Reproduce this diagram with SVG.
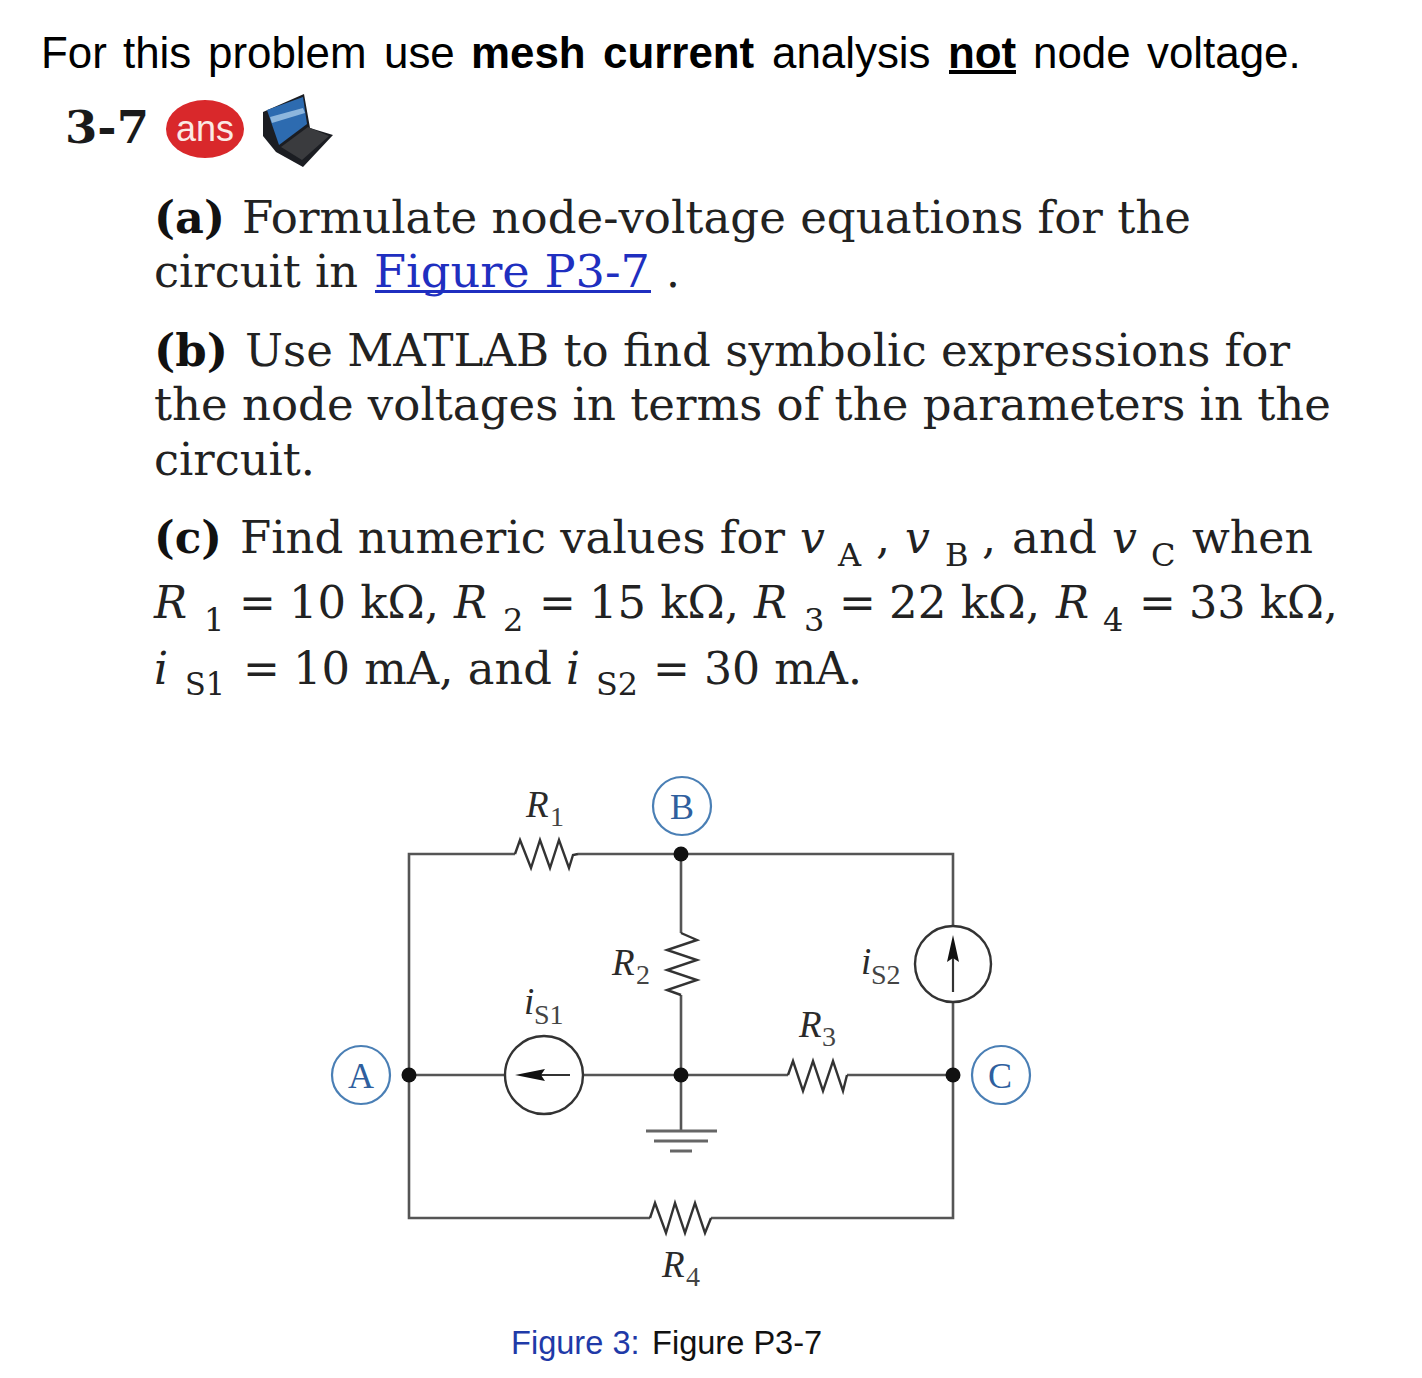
<svg xmlns="http://www.w3.org/2000/svg" width="1422" height="1378" viewBox="0 0 1422 1378">
<style>
text{white-space:pre}
.h{font-family:"Liberation Sans",Arial,sans-serif;font-size:43.9px;fill:#000}
.hb{font-weight:700}
.b{font-family:"DejaVu Serif",serif;font-size:44px;fill:#222}
.bb{font-weight:700;fill:#111}
.i{font-style:italic}
.s{font-size:32px}
.lk{fill:#1f2fc0}
.w{fill:none;stroke:#555;stroke-width:2.6;stroke-linejoin:miter}
.r{fill:none;stroke:#333;stroke-width:2.4;stroke-linejoin:miter}
.c{fill:#fff;stroke:#333;stroke-width:2.4}
.d{fill:#111}
.n{fill:#fff;stroke:#4a7fb5;stroke-width:2.2}
.nt{font-family:"Liberation Serif",serif;font-size:36px;fill:#2f5f9e;text-anchor:middle}
.l{font-family:"Liberation Serif",serif;font-size:37px;font-style:italic;fill:#2a2a2a}
.ls{font-family:"Liberation Serif",serif;font-size:28px;fill:#444}
.cap{font-family:"Liberation Sans",Arial,sans-serif;font-size:32.6px}
</style>
<rect width="1422" height="1378" fill="#fff"/>
<g id="heading" class="h">
<text x="41" y="68">For</text><text x="123" y="68">this</text><text x="208" y="68">problem</text><text x="384" y="68">use</text>
<text x="471" y="68" class="hb">mesh</text><text x="603" y="68" class="hb">current</text>
<text x="772" y="68">analysis</text><text x="948" y="68" class="hb">not</text><text x="1033" y="68">node</text><text x="1147" y="68">voltage.</text>
<rect x="949" y="70" width="67" height="4" fill="#000"/>
</g>
<g id="problem-number">
<text x="65" y="143" font-family="DejaVu Serif,serif" font-weight="700" font-size="44" fill="#1a1a1a" textLength="84" lengthAdjust="spacingAndGlyphs">3-7</text>
<ellipse cx="205" cy="129" rx="39" ry="29" fill="#d9282b"/>
<text x="205" y="141" font-family="Liberation Sans,sans-serif" font-size="36" fill="#fbe9e4" text-anchor="middle" textLength="58" lengthAdjust="spacingAndGlyphs">ans</text>
<polygon points="263,112 304,94 310,128 333,135 303,167 276,152 263,136" fill="#1b1d22"/>
<polygon points="267,110 303,97 307,124 279,145" fill="#2d6bb0"/>
<polygon points="270,117 303,108 305,113 272,123" fill="#8db6dd"/>
<polygon points="281,147 308,127 329,136 302,160" fill="#3a3b3e"/>
</g>
<g id="text-a" class="b">
<text x="154" y="233" class="bb" textLength="71" lengthAdjust="spacingAndGlyphs">(a)</text>
<text x="242" y="233" textLength="949" lengthAdjust="spacingAndGlyphs">Formulate node-voltage equations for the</text>
<text x="154" y="287" textLength="204" lengthAdjust="spacingAndGlyphs">circuit in</text>
<text x="374" y="287" class="lk" textLength="276" lengthAdjust="spacingAndGlyphs">Figure P3-7</text>
<rect x="375" y="290" width="276" height="3" fill="#1f2fc0"/>
<text x="666" y="287">.</text>
</g>
<g id="text-b" class="b">
<text x="154" y="366" class="bb" textLength="74" lengthAdjust="spacingAndGlyphs">(b)</text>
<text x="245" y="366" textLength="1045" lengthAdjust="spacingAndGlyphs">Use MATLAB to find symbolic expressions for</text>
<text x="154" y="420" textLength="1177" lengthAdjust="spacingAndGlyphs">the node voltages in terms of the parameters in the</text>
<text x="154" y="475" textLength="161" lengthAdjust="spacingAndGlyphs">circuit.</text>
</g>
<g id="text-c" class="b">
<text x="154" y="553" class="bb" textLength="68" lengthAdjust="spacingAndGlyphs">(c)</text>
<text x="240" y="553" textLength="545" lengthAdjust="spacingAndGlyphs">Find numeric values for</text>
<text x="800" y="553" class="i">v</text><text x="838" y="566" class="s">A</text><text x="876" y="553">,</text>
<text x="905" y="553" class="i">v</text><text x="945" y="566" class="s">B</text><text x="982" y="553">,</text>
<text x="1012" y="553" textLength="85" lengthAdjust="spacingAndGlyphs">and</text>
<text x="1112" y="553" class="i">v</text><text x="1151" y="566" class="s">C</text>
<text x="1192" y="553" textLength="121" lengthAdjust="spacingAndGlyphs">when</text>
<text x="154" y="618" class="i">R</text><text x="204" y="631" class="s">1</text><text x="239" y="618">=</text>
<text x="289" y="618" textLength="150" lengthAdjust="spacingAndGlyphs">10 kΩ,</text>
<text x="454" y="618" class="i">R</text><text x="503" y="631" class="s">2</text><text x="539" y="618">=</text>
<text x="589" y="618" textLength="150" lengthAdjust="spacingAndGlyphs">15 kΩ,</text>
<text x="754" y="618" class="i">R</text><text x="804" y="631" class="s">3</text><text x="839" y="618">=</text>
<text x="889" y="618" textLength="151" lengthAdjust="spacingAndGlyphs">22 kΩ,</text>
<text x="1056" y="618" class="i">R</text><text x="1103" y="631" class="s">4</text><text x="1139" y="618">=</text>
<text x="1189" y="618" textLength="149" lengthAdjust="spacingAndGlyphs">33 kΩ,</text>
<text x="154" y="684" class="i">i</text><text x="185" y="695" class="s" textLength="40" lengthAdjust="spacingAndGlyphs">S1</text><text x="243" y="684">=</text>
<text x="293" y="684" textLength="259" lengthAdjust="spacingAndGlyphs">10 mA, and</text>
<text x="566" y="684" class="i">i</text><text x="596" y="695" class="s" textLength="42" lengthAdjust="spacingAndGlyphs">S2</text><text x="653" y="684">=</text>
<text x="704" y="684" textLength="158" lengthAdjust="spacingAndGlyphs">30 mA.</text>
</g>
<g id="connectors">
<path class="w" d="M515 854H409V1218H650M711 1218H953V854H578M681 854V933M681 995V1130M409 1075H506M583 1075H788M847 1075H953"/>
</g>
<g id="R1"><path class="r" d="M515 854L520 840L531 868L540 840L550 868L559 840L569 868L573 855L578 854"/><text class="l" x="526" y="817">R</text><text class="ls" x="550" y="826">1</text></g>
<g id="R2"><path class="r" d="M681 933L697 940L667 950L697 960L667 970L697 980L667 990L681 995"/><text class="l" x="612" y="975">R</text><text class="ls" x="636" y="984">2</text></g>
<g id="R3"><path class="r" d="M788 1075L793 1061L803 1091L813 1061L823 1091L833 1061L843 1091L847 1075"/><text class="l" x="799" y="1037">R</text><text class="ls" x="822" y="1046">3</text></g>
<g id="R4"><path class="r" d="M650 1218L655 1203L666 1233L675 1203L685 1233L695 1203L705 1233L711 1218"/><text class="l" x="662" y="1277">R</text><text class="ls" x="686" y="1286">4</text></g>
<g id="iS1"><circle class="c" cx="544" cy="1075" r="39"/><path d="M570 1075H520" stroke="#333" stroke-width="2.2"/><polygon class="d" points="515,1075 545,1069 541,1075 545,1081"/><text class="l" x="524" y="1014">i</text><text class="ls" x="534" y="1024">S1</text></g>
<g id="iS2"><circle class="c" cx="953" cy="964" r="38"/><path d="M953 992V945" stroke="#333" stroke-width="2.2"/><polygon class="d" points="953,935 947,962 953,958 959,962"/><text class="l" x="861" y="974">i</text><text class="ls" x="871" y="984">S2</text></g>
<g id="ground"><path d="M646 1131H717M654 1141H708M670 1151H692" stroke="#666" stroke-width="3" fill="none"/></g>
<g id="dots"><circle class="d" cx="409" cy="1075" r="7.5"/><circle class="d" cx="681" cy="854" r="7.5"/><circle class="d" cx="681" cy="1075" r="7.5"/><circle class="d" cx="953" cy="1075" r="7.5"/></g>
<g id="node-A"><circle class="n" cx="361" cy="1075" r="29"/><text class="nt" x="361" y="1088">A</text></g>
<g id="node-B"><circle class="n" cx="682" cy="806" r="29"/><text class="nt" x="682" y="819">B</text></g>
<g id="node-C"><circle class="n" cx="1001" cy="1075" r="29"/><text class="nt" x="1000" y="1088">C</text></g>
<g id="caption" class="cap"><text x="511" y="1354" fill="#1f3aa8">Figure 3:</text><text x="652" y="1354" fill="#111">Figure P3-7</text></g>
</svg>
